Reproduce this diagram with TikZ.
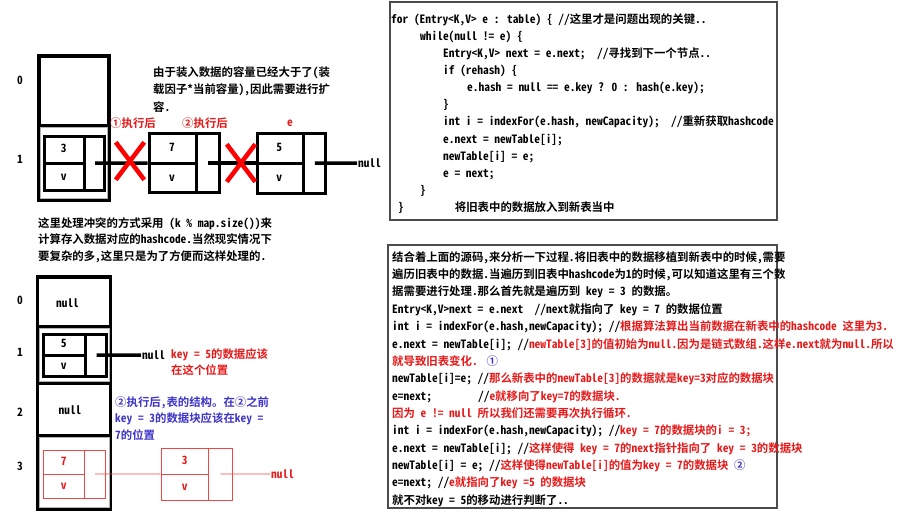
\documentclass[tikz,border=0pt]{standalone}
\usepackage{fontspec}
\usetikzlibrary{calc,shapes.misc}
\IfFontExistsTF{Noto Sans Mono CJK SC}
  {\setmainfont{Noto Sans Mono CJK SC}}
  {\setmainfont{Noto Sans CJK SC}}
\definecolor{hired}{RGB}{232,24,24}
\definecolor{noteblue}{RGB}{60,52,200}
\definecolor{linkred}{RGB}{240,70,70}
\newcommand\notesize{\fontsize{11.4}{17.36}\selectfont\bfseries}
\newcommand\codesize{\fontsize{11.4}{17.1}\selectfont\bfseries}
% one hash entry: name, centre, width, height, key, line style, text colour
\newcommand\listentry[7]{%
  \node[entrybox,#6,minimum width=#3pt,minimum height=#4pt] (#1) at (#2) {};
  \coordinate (#1-d) at ($(#1.north west)!0.67!(#1.north east)$);
  \draw[#6] (#1-d) -- (#1-d |- #1.south);
  \draw[#6] (#1.west) -- (#1.west -| #1-d);
  \node[celltext,text=#7] (#1-key) at ($(#1.north west)!0.5!(#1.west -| #1-d)$) {#5};
  \node[celltext,text=#7] (#1-val) at ($(#1.south west)!0.5!(#1.west -| #1-d)$) {v};
  \coordinate (#1-ptr) at ($(#1-d)!0.5!(#1.south east)$);
}
\begin{document}
\begin{tikzpicture}[x=1pt,y=-1pt,
    every node/.style={inner sep=1pt,font=\notesize},
    slot/.style={draw,line width=3.3pt,minimum width=70pt},
    slotrim/.style={draw=black!30,line width=0.8pt},
    entrybox/.style={draw,inner sep=0pt},
    thickbox/.style={line width=3pt},
    redbox/.style={draw=linkred,line width=0.9pt},
    celltext/.style={inner sep=0pt},
    link/.style={line width=3.5pt},
    redlink/.style={draw=linkred,line width=0.9pt},
    crossmark/.style={cross out,draw=red,line width=4.5pt,minimum width=24pt,minimum height=33pt},
    note/.style={anchor=base west,align=left,inner sep=0pt},
    codebox/.style={draw=black!70,line width=1.2pt}]
  \useasboundingbox (0,0) rectangle (901,528);

  % old table, before the resize
  \node[slot,minimum height=70pt] (oldslot0) at (74,91) {};
  \node[slot,minimum height=74pt] (oldslot1) at (74,163) {};
  \draw[slotrim] ([shift={(3.5,3.5)}]oldslot1.north west) rectangle ([shift={(-3.5,-3.5)}]oldslot1.south east);
  \node (oldidx0) at (20,80) {0};
  \node (oldidx1) at (20,159) {1};

  \listentry{old3}{74,163}{60}{54}{3}{thickbox}{black}
  \listentry{old7}{184,163}{70}{59}{7}{thickbox}{black}
  \listentry{old5}{291,163}{68}{60}{5}{thickbox}{black}
  \node[anchor=west] (oldnull) at (357,163) {null};
  \draw[link] (old3-ptr) -- (old7.west);
  \draw[link] (old7-ptr) -- (old5.west);
  \draw[link] (old5-ptr) -- (oldnull.west);
  \node[crossmark] (cut1) at (130,161) {};
  \node[crossmark] (cut2) at (241,163) {};

  \node[note,text=hired] (step1) at (110,127.3) {①执行后};
  \node[note,text=hired] (step2) at (182,127.3) {②执行后};
  \node[text=hired] (curlabel) at (290,123) {e};
  % multi-line notes sit on the baseline of their last line
  \node[note,font=\fontsize{11.4}{17.5}\selectfont\bfseries] (resizenote) at (153,111)
    {由于装入数据的容量已经大于了(装\\载因子*当前容量),因此需要进行扩\\容.};
  \node[note,font=\fontsize{11.4}{16.7}\selectfont\bfseries] (hashnote) at (38,260.4)
    {这里处理冲突的方式采用 (k \% map.size())来\\计算存入数据对应的hashcode.当然现实情况下\\要复杂的多,这里只是为了方便而这样处理的.};

  % new table, after the resize
  \node[slot,minimum width=73pt,minimum height=50pt] (newslot0) at (74.3,302) {};
  \node[slot,minimum width=73pt,minimum height=56pt] (newslot1) at (74.3,355) {};
  \node[slot,minimum width=73pt,minimum height=52.5pt] (newslot2) at (74.3,409.25) {};
  \node[slot,minimum width=73pt,minimum height=74pt] (newslot3) at (74.3,472.5) {};
  \draw[slotrim] ([shift={(3.5,3.5)}]newslot1.north west) rectangle ([shift={(-3.5,-3.5)}]newslot1.south east);
  \draw[slotrim] ([shift={(3.5,3.5)}]newslot3.north west) rectangle ([shift={(-3.5,-3.5)}]newslot3.south east);
  \node (newidx0) at (20,300) {0};
  \node (newidx1) at (20,352) {1};
  \node (newidx2) at (20,412) {2};
  \node (newidx3) at (20,466) {3};
  \node (empty0) at (67.5,303) {null};
  \node (empty2) at (70,410) {null};

  \listentry{new5}{74.5,355}{63}{42}{5}{thickbox}{black}
  \node[anchor=west] (newnull1) at (141,355) {null};
  \draw[link] (new5-ptr) -- (newnull1.west);
  \node[note,text=hired,font=\fontsize{11.4}{16.3}\selectfont\bfseries] (keyfive) at (171,374.6)
    {key = 5的数据应该\\在这个位置};
  \node[note,text=noteblue,font=\fontsize{11.4}{16.5}\selectfont\bfseries] (afterstep2) at (115,439.3)
    {②执行后,表的结构。在②之前\\key = 3的数据块应该在key =\\7的位置};

  \listentry{new7}{74,474}{62}{48}{7}{redbox}{hired}
  \listentry{new3}{196.5,474}{71}{52}{3}{redbox}{hired}
  \node[anchor=west,text=hired] (newnull3) at (270,474) {null};
  \draw[redlink] (new7-ptr) -- (new3.west);
  \draw[redlink] (new3-ptr) -- (newnull3.west);

  % transfer() source
  \draw[codebox] (390,2) rectangle (777,220);
  \node[note,font=\codesize] (srccode) at (391,211.4) {%
    for (Entry<K,V> e : table) \{ //这里才是问题出现的关键..\\
    \hspace*{29pt}while(null != e) \{\\
    \hspace*{52pt}Entry<K,V> next = e.next;\ \ //寻找到下一个节点..\\
    \hspace*{52pt}if (rehash) \{\\
    \hspace*{76pt}e.hash = null == e.key ? 0 : hash(e.key);\\
    \hspace*{52pt}\}\\
    \hspace*{52pt}int i = indexFor(e.hash, newCapacity);\ \ //重新获取hashcode\\
    \hspace*{52pt}e.next = newTable[i];\\
    \hspace*{52pt}newTable[i] = e;\\
    \hspace*{52pt}e = next;\\
    \hspace*{29pt}\}\\
    \hspace*{7pt}\}\hspace*{51pt}将旧表中的数据放入到新表当中};

  % walk-through
  \draw[codebox] (388,245) rectangle (777,508);
  \node[note] (walk) at (392,504.3) {%
    结合着上面的源码,来分析一下过程.将旧表中的数据移植到新表中的时候,需要\\
    遍历旧表中的数据.当遍历到旧表中hashcode为1的时候,可以知道这里有三个数\\
    据需要进行处理.那么首先就是遍历到 key = 3 的数据。\\
    Entry<K,V>next = e.next\ \ //next就指向了 key = 7 的数据位置\\
    int i = indexFor(e.hash,newCapacity); //\textcolor{hired}{根据算法算出当前数据在新表中的hashcode 这里为3.}\\
    e.next = newTable[i]; //\textcolor{hired}{newTable[3]的值初始为null.因为是链式数组.这样e.next就为null.所以}\\
    \textcolor{hired}{就导致旧表变化.}\hspace*{9pt}\textcolor{noteblue}{①}\\
    newTable[i]=e; //\textcolor{hired}{那么新表中的newTable[3]的数据就是key=3对应的数据块}\\
    e=next;\hspace*{46pt}//\textcolor{hired}{e就移向了key=7的数据块.}\\
    \textcolor{hired}{因为 e != null 所以我们还需要再次执行循环.}\\
    int i = indexFor(e.hash,newCapacity); //\textcolor{hired}{key = 7的数据块的i = 3;}\\
    e.next = newTable[i]; //\textcolor{hired}{这样使得 key = 7的next指针指向了 key = 3的数据块}\\
    newTable[i] = e; //\textcolor{hired}{这样使得newTable[i]的值为key = 7的数据块} \textcolor{noteblue}{②}\\
    e=next; //\textcolor{hired}{e就指向了key =5 的数据块}\\
    就不对key = 5的移动进行判断了..};
\end{tikzpicture}
\end{document}
